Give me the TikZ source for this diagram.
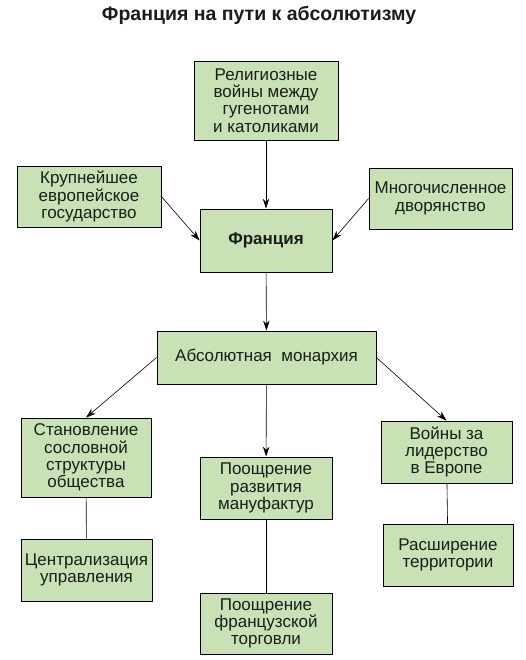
\documentclass[tikz,border=0pt]{standalone}
\usepackage{fontspec}
\setmainfont{Liberation Sans}
\usetikzlibrary{arrows.meta,positioning,calc}
\definecolor{boxgreen}{RGB}{200,226,182}
\definecolor{textdark}{RGB}{25,30,25}

\begin{document}
\begin{tikzpicture}[x=1pt, y=-1pt,
    box/.style={draw, line width=0.8pt, rectangle, fill=boxgreen, text=textdark, align=center,
        inner sep=0pt, font=\fontsize{17}{17.3}\selectfont},
    arr/.style={-{Stealth[length=10pt, width=6.5pt]}, semithick},
    link/.style={semithick}]
    \useasboundingbox (0,0) rectangle (525,660);

    % Title
    \node[font=\fontsize{19.5}{22}\selectfont\bfseries, text=textdark] (title) at (259,15) {Франция на пути к абсолютизму};

    % Causes
    \node[box, minimum width=144pt, minimum height=79pt] (religion) at (266,100.5) {Религиозные\\войны между\\гугенотами\\и католиками};
    \node[box, minimum width=144pt, minimum height=61pt] (largest) at (89,196.5) {Крупнейшее\\европейское\\государство};
    \node[box, minimum width=143pt, minimum height=61pt] (nobility) at (440.5,198.5) {Многочисленное\\дворянство};

    % France
    \node[box, minimum width=132pt, minimum height=63pt, font=\fontsize{17}{17.3}\selectfont\bfseries] (france) at (266,240.5) {Франция};

    % Absolute monarchy
    \node[box, minimum width=219pt, minimum height=53pt] (monarchy) at (266.5,357.5) {Абсолютная\ \ монархия};

    % Consequences
    \node[box, minimum width=130pt, minimum height=79pt] (estates) at (86,457.5) {Становление\\сословной\\структуры\\общества};
    \node[box, minimum width=131pt, minimum height=62pt] (central) at (86.5,570) {Централизация\\управления};
    \node[box, minimum width=132pt, minimum height=62pt] (manuf) at (266,488) {Поощрение\\развития\\мануфактур};
    \node[box, minimum width=132pt, minimum height=61pt] (trade) at (266,623.5) {Поощрение\\французской\\торговли};
    \node[box, minimum width=131pt, minimum height=62pt] (wars) at (446.5,452) {Войны за\\лидерство\\в Европе};
    \node[box, minimum width=130pt, minimum height=62pt] (territory) at (448,555) {Расширение\\территории};

    % Arrows
    \draw[arr] (religion) -- (france);
    \draw[arr] (largest.east) -- (france.west);
    \draw[arr] (nobility.west) -- (france.east);
    \draw[arr] (france) -- (monarchy);
    \draw[arr] (monarchy.west) -- (estates.north);
    \draw[arr] (monarchy) -- (manuf);
    \draw[arr] (monarchy.east) -- (wars.north);
    \draw[link] (estates) -- (central);
    \draw[link] (manuf) -- (trade);
    \draw[link] (wars) -- (territory);
\end{tikzpicture}
\end{document}
